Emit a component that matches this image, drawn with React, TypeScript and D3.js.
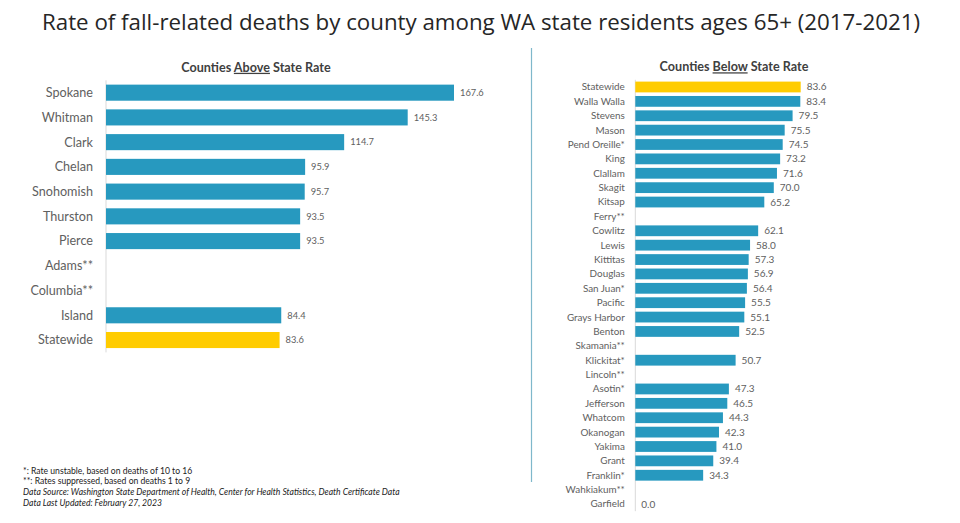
import * as d3 from "d3";

// Rates per 100,000, ages 65+, 2017-2021 (null = suppressed)
const aboveCounties = ["Spokane", "Whitman", "Clark", "Chelan", "Snohomish", "Thurston", "Pierce", "Adams**", "Columbia**", "Island", "Statewide"];
const aboveRates: (number | null)[] = [167.6, 145.3, 114.7, 95.9, 95.7, 93.5, 93.5, null, null, 84.4, 83.6];

const belowCounties = [
  "Statewide", "Walla Walla", "Stevens", "Mason", "Pend Oreille*", "King", "Clallam", "Skagit", "Kitsap", "Ferry**",
  "Cowlitz", "Lewis", "Kittitas", "Douglas", "San Juan*", "Pacific", "Grays Harbor", "Benton", "Skamania**", "Klickitat*",
  "Lincoln**", "Asotin*", "Jefferson", "Whatcom", "Okanogan", "Yakima", "Grant", "Franklin*", "Wahkiakum**", "Garfield",
];
const belowRates: (number | null)[] = [
  83.6, 83.4, 79.5, 75.5, 74.5, 73.2, 71.6, 70.0, 65.2, null,
  62.1, 58.0, 57.3, 56.9, 56.4, 55.5, 55.1, 52.5, null, 50.7,
  null, 47.3, 46.5, 44.3, 42.3, 41.0, 39.4, 34.3, null, 0.0,
];

const footnotes = [
  "*: Rate unstable, based on deaths of 10 to 16",
  "**: Rates suppressed, based on deaths 1 to 9",
  "Data Source: Washington State Department of Health, Center for Health Statistics, Death Certificate Data",
  "Data Last Updated: February 27, 2023",
];

const BLUE = "#2799bf";
const YELLOW = "#ffcc00";
const LABEL = "#606060";
const FONT = "Lato, 'Open Sans', sans-serif";

function Panel({ names, values, x0, x1, maxVal, y0, y1, pad, labelSize, valueSize, labelGap, title, word, titleX }) {
  // x scale for bar lengths
  const x = d3.scaleLinear().domain([0, maxVal]).range([x0, x1]);
  // band scale for rows
  const y = d3.scaleBand().domain(names).range([y0, y1]).paddingInner(pad).paddingOuter(pad / 2);
  const words = title.split(word);
  return (
    <g>
      <text x={titleX} y={y0 - 8.5} textAnchor="middle" fontFamily={FONT} fontWeight="bold" fontSize={12.6} fill="#404040">
        {words[0]}
        <tspan textDecoration="underline">{word}</tspan>
        {words[1]}
      </text>
      <line x1={x0} x2={x0} y1={y0} y2={y1} stroke="#d9d9d9" strokeWidth={1} />
      {names.map((n, i) => {
        const v = values[i];
        const cy = (y(n) as number) + y.bandwidth() / 2;
        return (
          <g key={n}>
            <text x={x0 - labelGap} y={cy} dy="0.35em" textAnchor="end" fontFamily={FONT} fontSize={labelSize} fill={LABEL}>
              {n}
            </text>
            {v !== null && v > 0 && (
              <rect x={x0} y={y(n)} width={x(v) - x0} height={y.bandwidth()} fill={n === "Statewide" ? YELLOW : BLUE} />
            )}
            {v !== null && (
              <text x={x(v) + 6} y={cy} dy="0.35em" fontFamily={FONT} fontSize={valueSize} fill={LABEL}>
                {v.toFixed(1)}
              </text>
            )}
          </g>
        );
      })}
    </g>
  );
}

export default function App() {
  return (
    <svg width={960} height={523} style={{ display: "block", position: "absolute", left: 0, top: 0, background: "#fff" }}>
      <text x={42} y={30} textLength={878} lengthAdjust="spacingAndGlyphs" fontFamily="'Open Sans', sans-serif" fontSize={22} fill="#262626">
        Rate of fall-related deaths by county among WA state residents ages 65+ (2017-2021)
      </text>
      <line x1={531.5} x2={531.5} y1={48} y2={482} stroke="#7fb8cb" strokeWidth={1.2} />
      <Panel
        names={aboveCounties}
        values={aboveRates}
        x0={106}
        x1={454}
        maxVal={167.6}
        y0={80.3}
        y1={352.4}
        pad={0.35}
        labelSize={12.6}
        valueSize={9.3}
        labelGap={13}
        title="Counties Above State Rate"
        word="Above"
        titleX={256}
      />
      <Panel
        names={belowCounties}
        values={belowRates}
        x0={635.3}
        x1={800.7}
        maxVal={83.6}
        y0={79.8}
        y1={511.2}
        pad={0.25}
        labelSize={9.9}
        valueSize={10}
        labelGap={10.5}
        title="Counties Below State Rate"
        word="Below"
        titleX={734}
      />
      {footnotes.map((f, i) => (
        <text key={i} x={23} y={473.5 + i * 10.7} fontFamily={FONT} fontSize={8.6} fontStyle={i >= 2 ? "italic" : "normal"} fill="#222">
          {f}
        </text>
      ))}
    </svg>
  );
}
